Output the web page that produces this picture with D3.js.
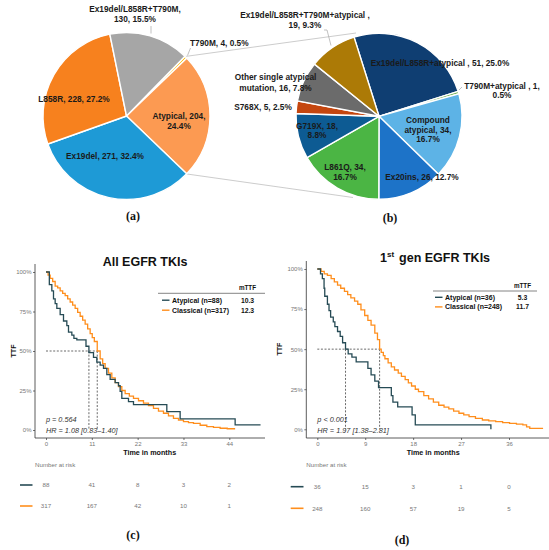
<!DOCTYPE html>
<html>
<head>
<meta charset="utf-8">
<script src="https://cdn.jsdelivr.net/npm/d3@7"></script>
<style>
  body { margin: 0; background: #fff; }
  text { font-family: "Liberation Sans", Arial, sans-serif; }
  .pl { font-size: 8.3px; font-weight: bold; fill: #1a1a1a; }
  .cap { font-family: "Liberation Serif", "Times New Roman", serif; font-size: 12px; font-weight: bold; fill: #111; }
  .tick { font-size: 6px; fill: #777; }
  .bold { font-weight: bold; fill: #111; }
  .stat { font-size: 7.3px; font-style: italic; fill: #333; }
  .risk { font-size: 6.2px; fill: #777; }
</style>
</head>
<body>
<svg id="fig" width="549" height="550"></svg>
<script>
// ---- data: pie (a) ----
const mutLabels = ['T790M', 'Atypical', 'Ex19del', 'L858R', 'Ex19del/L858R+T790M'];
const mutCounts = [4, 204, 271, 228, 130];
const mutColors = ['#FFC000', '#FC9A52', '#1E9AD6', '#F7811E', '#A6A6A6'];

// ---- data: pie (b), breakdown of atypical ----
const atypLabels = ['Ex19del/L858R+atypical', 'T790M+atypical', 'Compound atypical', 'Ex20ins',
  'L861Q', 'G719X', 'S768X', 'Other single atypical mutation', 'Ex19del/L858R+T790M+atypical'];
const atypCounts = [51, 1, 34, 26, 34, 18, 5, 16, 19];
const atypColors = ['#0F3E72', '#6DAE4A', '#5DB3E6', '#1D73C8', '#4BB544', '#0D5B93', '#C4460F', '#6B6B6B', '#AC7A06'];

// ---- data: Kaplan-Meier, all EGFR TKIs ----
const allAtypT = [0, 0.8, 1.4, 1.8, 2.2, 2.6, 3.4, 4.2, 5.0, 5.4, 6.2, 6.7, 7.4, 9.6, 10.3, 11.4, 12.2, 13.0, 13.8, 14.6, 15.4, 16.6, 17.4, 17.8, 18.2, 19.8, 21.0, 29.0, 32.2, 45.4, 51.5];
const allAtypS = [1, .92, .88, .83, .80, .77, .73, .69, .66, .62, .60, .58, .57, .53, .49, .46, .43, .41, .39, .35, .32, .30, .28, .245, .20, .18, .16, .116, .07, .032, .032];
const allClasT = [0, 0.5, 1.0, 1.6, 2.2, 2.8, 3.4, 4.0, 4.6, 5.2, 5.8, 6.4, 7.0, 7.6, 8.2, 8.8, 9.4, 10.0, 10.6, 11.1, 11.6, 12.3, 13.0, 13.6, 14.2, 15.0, 15.8, 16.6, 17.4, 18.2, 19.0, 20.0, 21.0, 22.2, 23.4, 24.6, 25.8, 27.0, 28.2, 29.4, 30.6, 31.8, 33.0, 34.2, 35.4, 37.0, 38.6, 40.2, 41.8, 43.5, 45.4];
const allClasS = [1, .98, .96, .94, .91, .90, .88, .865, .85, .83, .81, .79, .77, .745, .72, .695, .67, .64, .61, .585, .56, .50, .45, .42, .39, .36, .33, .30, .275, .25, .23, .215, .20, .185, .17, .155, .137, .12, .106, .09, .074, .063, .053, .047, .042, .03, .021, .016, .011, .008, .008];
const allTicks = [0, 11, 22, 33, 44];
const allRiskAtyp = [88, 41, 8, 3, 2];
const allRiskClas = [317, 167, 42, 10, 1];

// ---- data: Kaplan-Meier, 1st gen EGFR TKIs ----
const genAtypT = [0, 0.6, 0.95, 1.27, 1.4, 1.9, 2.2, 2.5, 3.0, 3.3, 3.8, 4.3, 4.75, 5.3, 5.8, 6.5, 7.3, 9.5, 10.1, 10.8, 11.5, 13.9, 14.2, 15.1, 17.8, 18.4, 32.6];
const genAtypS = [1, .97, .94, .88, .83, .78, .74, .70, .67, .64, .61, .58, .54, .50, .47, .45, .42, .38, .34, .30, .26, .21, .17, .14, .09, .027, 0];
const genClasT = [0, 0.7, 1.3, 1.9, 2.6, 3.2, 3.8, 4.4, 5.1, 5.7, 6.3, 7.0, 7.6, 8.2, 8.9, 9.5, 10.1, 10.8, 11.3, 11.7, 12.0, 12.4, 12.7, 13.3, 13.9, 14.5, 15.2, 15.8, 16.5, 17.1, 17.7, 18.4, 19.0, 20.0, 20.9, 21.8, 22.8, 23.8, 24.7, 25.6, 26.6, 27.5, 28.5, 29.7, 31.0, 32.2, 33.5, 34.8, 36.1, 37.4, 38.6, 39.3, 39.9, 42.4];
const genClasS = [1, .985, .97, .96, .94, .92, .90, .88, .86, .84, .82, .80, .78, .745, .71, .68, .65, .60, .56, .50, .48, .46, .44, .415, .39, .37, .35, .33, .31, .29, .27, .25, .235, .21, .19, .17, .15, .138, .127, .113, .10, .09, .079, .068, .058, .053, .048, .042, .037, .032, .027, .015, .006, .006];
const genTicks = [0, 9, 18, 27, 36];
const genRiskAtyp = [36, 15, 3, 1, 0];
const genRiskClas = [248, 160, 57, 19, 5];

const yTicks = [0, 0.25, 0.5, 0.75, 1];
const teal = '#264B55', orange = '#FF8E1C';

const svg = d3.select('#fig');
const rad = deg => deg * Math.PI / 180;

// ---------- pies ----------
function drawPie(cx, cy, r, startDeg, values, colors) {
  const pie = d3.pie().sort(null).value(d => d)
    .startAngle(rad(startDeg)).endAngle(rad(startDeg) + 2 * Math.PI);
  const arc = d3.arc().innerRadius(0).outerRadius(r);
  svg.append('g')
    .attr('transform', `translate(${cx},${cy})`)
    .selectAll('path')
    .data(pie(values))
    .join('path')
    .attr('d', arc)
    .attr('fill', (d, i) => colors[i])
    .attr('stroke', '#fff')
    .attr('stroke-width', 1.4);
}

function drawLabels(labels, counts, layout) {
  const total = d3.sum(counts);
  layout.forEach((L, i) => {
    const pct = (counts[i] / total * 100).toFixed(1);
    const t = svg.append('text').attr('class', 'pl')
      .attr('text-anchor', L.anchor || 'middle');
    L.lines(labels[i], counts[i], pct).forEach((s, k) => {
      t.append('tspan').attr('x', L.x).attr('y', L.y + k * (L.lh || 10)).text(s);
    });
  });
}

// connector lines (pie of pie)
const conn = svg.append('g').attr('stroke', '#BFBFBF').attr('stroke-width', 0.8).attr('fill', 'none');
conn.append('line').attr('x1', 185).attr('y1', 56.5).attr('x2', 356).attr('y2', 33);
conn.append('line').attr('x1', 187).attr('y1', 174).attr('x2', 353).attr('y2', 197.5);

drawPie(126.5, 116, 83.5, 44.4, mutCounts, mutColors);
drawPie(379, 116.3, 83, -17.5, atypCounts, atypColors);

// leader lines
const lead = svg.append('g').attr('stroke', '#A6A6A6').attr('stroke-width', 0.7).attr('fill', 'none');
lead.append('polyline').attr('points', '151,26 151,33.5');
lead.append('polyline').attr('points', '187.5,55.5 190.5,48');
lead.append('polyline').attr('points', '324,30 327,30 331,45.5');
lead.append('polyline').attr('points', '459,90 462,87');

drawLabels(mutLabels, mutCounts, [
  { x: 190, y: 45.5, anchor: 'start', lines: (n, c, p) => [`${n}, ${c}, ${p}%`] },
  { x: 179, y: 119, lines: (n, c, p) => [`${n}, ${c},`, `${p}%`] },
  { x: 105, y: 159, lines: (n, c, p) => [`${n}, ${c}, ${p}%`] },
  { x: 74, y: 102, lines: (n, c, p) => [`${n}, ${c}, ${p}%`] },
  { x: 135, y: 12, lines: (n, c, p) => [`${n},`, `${c}, ${p}%`] }
]);

drawLabels(atypLabels, atypCounts, [
  { x: 440, y: 66, lines: (n, c, p) => [`${n} , ${c}, ${p}%`] },
  { x: 502, y: 89, lines: (n, c, p) => [`${n} , ${c},`, `${p}%`], lh: 9 },
  { x: 428, y: 123, lines: (n, c, p) => [n.split(' ')[0], `${n.split(' ')[1]}, ${c},`, `${p}%`], lh: 9.5 },
  { x: 422, y: 180, lines: (n, c, p) => [`${n}, ${c}, ${p}%`] },
  { x: 345, y: 169.5, lines: (n, c, p) => [`${n}, ${c},`, `${p}%`] },
  { x: 317, y: 129, lines: (n, c, p) => [`${n}, ${c},`, `${p}%`], lh: 8.5 },
  { x: 263, y: 110, lines: (n, c, p) => [`${n}, ${c}, ${p}%`] },
  { x: 275.5, y: 80, lines: (n, c, p) => ['Other single atypical', `mutation, ${c}, ${p}%`], lh: 11 },
  { x: 305, y: 18, lines: (n, c, p) => [`${n} ,`, `${c}, ${p}%`] }
]);

svg.append('text').attr('class', 'cap').attr('x', 133).attr('y', 220).attr('text-anchor', 'middle').text('(a)');
svg.append('text').attr('class', 'cap').attr('x', 390).attr('y', 222).attr('text-anchor', 'middle').text('(b)');

// ---------- Kaplan-Meier panels ----------
function drawKM(o) {
  const g = svg.append('g');
  const x = d3.scaleLinear().domain([o.ticks[0], o.ticks[4]]).range([o.xa, o.xb]);
  const y = d3.scaleLinear().domain([0, 1]).range([o.y0, o.y1]);

  // axes
  const ax = g.append('g').attr('stroke', '#333').attr('stroke-width', 0.8);
  ax.append('line').attr('x1', o.axX).attr('x2', o.axX).attr('y1', o.top).attr('y2', o.axY);
  ax.append('line').attr('x1', o.axX).attr('x2', o.right).attr('y1', o.axY).attr('y2', o.axY);

  const yAxis = d3.axisLeft(y).tickValues(yTicks).tickFormat(d3.format('.0%')).tickSize(2).tickPadding(1.5);
  const ya = g.append('g').attr('transform', `translate(${o.axX},0)`).call(yAxis);
  const xAxis = d3.axisBottom(x).tickValues(o.ticks).tickSize(2).tickPadding(2);
  const xa = g.append('g').attr('transform', `translate(0,${o.axY})`).call(xAxis);
  [ya, xa].forEach(a => {
    a.select('.domain').remove();
    a.selectAll('line').attr('stroke', '#333').attr('stroke-width', 0.7);
    a.selectAll('text').attr('class', 'tick').attr('font-family', null).attr('font-size', null);
  });

  // median dashed lines
  const dash = g.append('g').attr('stroke', '#444').attr('stroke-width', 0.8).attr('stroke-dasharray', '2,1.6');
  dash.append('line').attr('x1', x(0)).attr('x2', x(o.medians[1])).attr('y1', y(0.5)).attr('y2', y(0.5));
  o.medians.forEach(m => {
    dash.append('line').attr('x1', x(m)).attr('x2', x(m)).attr('y1', y(0.5)).attr('y2', y(0));
  });

  // step curves
  const line = d3.line().x(d => x(d[0])).y(d => y(d[1])).curve(d3.curveStepAfter);
  [[o.clasT, o.clasS, orange], [o.atypT, o.atypS, teal]].forEach(([t, s, c]) => {
    g.append('path').datum(d3.zip(t, s)).attr('d', line)
      .attr('fill', 'none').attr('stroke', c).attr('stroke-width', 1.3);
  });

  // title
  const tt = g.append('text').attr('class', 'bold').attr('font-size', 12.5)
    .attr('x', o.titleX).attr('y', o.titleY).attr('text-anchor', o.titleAnchor);
  o.title(tt);

  // y label
  g.append('text').attr('class', 'bold').attr('font-size', 7)
    .attr('transform', `translate(${o.ttfX},${y(0.5)}) rotate(-90)`)
    .attr('text-anchor', 'middle').text('TTF');
  // x label
  g.append('text').attr('class', 'bold').attr('font-size', 7.2)
    .attr('x', (x(o.ticks[0]) + x(o.ticks[4])) / 2 + o.xlabDx).attr('y', o.axY + 16.5)
    .attr('text-anchor', 'middle').text('Time in months');

  // legend
  const lg = g.append('g');
  lg.append('line').attr('x1', o.lg.x0).attr('x2', o.lg.x1).attr('y1', o.lg.rule).attr('y2', o.lg.rule)
    .attr('stroke', '#666').attr('stroke-width', 0.8);
  lg.append('text').attr('class', 'bold').attr('font-size', 6.3).attr('x', o.lg.mx).attr('y', o.lg.rule - 3.2)
    .attr('text-anchor', 'middle').text('mTTF');
  [[teal, `Atypical (n=${o.nAtyp})`, o.mText[0]], [orange, `Classical (n=${o.nClas})`, o.mText[1]]].forEach(([c, s, m], i) => {
    const yy = o.lg.row0 + i * o.lg.dy;
    lg.append('line').attr('x1', o.lg.sx).attr('x2', o.lg.sx + 7.5).attr('y1', yy).attr('y2', yy)
      .attr('stroke', c).attr('stroke-width', 1.4);
    lg.append('text').attr('class', 'bold').attr('font-size', 7).attr('x', o.lg.sx + 10).attr('y', yy + 2.5).text(s);
    lg.append('text').attr('class', 'bold').attr('font-size', 6.8).attr('x', o.lg.mx).attr('y', yy + 2.5)
      .attr('text-anchor', 'middle').text(m);
  });

  // stats
  g.append('text').attr('class', 'stat').attr('x', x(0)).attr('y', 421.5).text(o.pText);
  g.append('text').attr('class', 'stat').attr('x', x(0)).attr('y', 432.8).text(o.hrText);

  // number at risk
  g.append('text').attr('class', 'risk').attr('x', o.axX).attr('y', 467.2).text('Number at risk');
  [[teal, o.riskAtyp], [orange, o.riskClas]].forEach(([c, vals], i) => {
    const yy = o.riskY[i];
    g.append('line').attr('x1', o.riskLine[0]).attr('x2', o.riskLine[1]).attr('y1', yy).attr('y2', yy)
      .attr('stroke', c).attr('stroke-width', 1.6);
    g.selectAll(null).data(vals).join('text').attr('class', 'risk')
      .attr('x', (d, k) => x(o.ticks[k])).attr('y', yy + 2.2).attr('text-anchor', 'middle').text(d => d);
  });

  svg.append('text').attr('class', 'cap').attr('x', o.capX).attr('y', o.capY).attr('text-anchor', 'middle').text(o.cap);
}

drawKM({
  ticks: allTicks, xa: 46, xb: 229.3, y0: 430, y1: 272,
  axX: 35, axY: 438, top: 264, right: 265,
  medians: [10.3, 12.3],
  atypT: allAtypT, atypS: allAtypS, clasT: allClasT, clasS: allClasS,
  titleX: 145, titleY: 266, titleAnchor: 'middle',
  title: t => t.text('All EGFR TKIs'),
  ttfX: 15.5, xlabDx: 12,
  lg: { x0: 158, x1: 265, rule: 293.3, mx: 247.5, sx: 162, row0: 300.2, dy: 10 },
  nAtyp: 88, nClas: 317, mText: ['10.3', '12.3'],
  pText: 'p = 0.564', hrText: 'HR = 1.08 [0.83\u20131.40]',
  riskAtyp: allRiskAtyp, riskClas: allRiskClas, riskY: [485, 506], riskLine: [20, 32.5],
  cap: '(c)', capX: 133, capY: 539
});

drawKM({
  ticks: genTicks, xa: 317.3, xb: 509, y0: 429.3, y1: 269,
  axX: 306.3, axY: 438, top: 261, right: 549,
  medians: [5.3, 11.7],
  atypT: genAtypT, atypS: genAtypS, clasT: genClasT, clasS: genClasS,
  titleX: 380, titleY: 261.5, titleAnchor: 'start',
  title: t => {
    t.append('tspan').text('1');
    t.append('tspan').attr('font-size', 8).attr('dy', -4.5).text('st');
    t.append('tspan').attr('dy', 4.5).attr('dx', 5).text('gen EGFR TKIs');
  },
  ttfX: 281.5, xlabDx: 20,
  lg: { x0: 433, x1: 537, rule: 291, mx: 522.5, sx: 435, row0: 297.3, dy: 9.6 },
  nAtyp: 36, nClas: 248, mText: ['5.3', '11.7'],
  pText: 'p < 0.001', hrText: 'HR = 1.97 [1.38\u20132.81]',
  riskAtyp: genRiskAtyp, riskClas: genRiskClas, riskY: [486.7, 508.3], riskLine: [290.7, 303.5],
  cap: '(d)', capX: 402, capY: 544
});
</script>
</body>
</html>
